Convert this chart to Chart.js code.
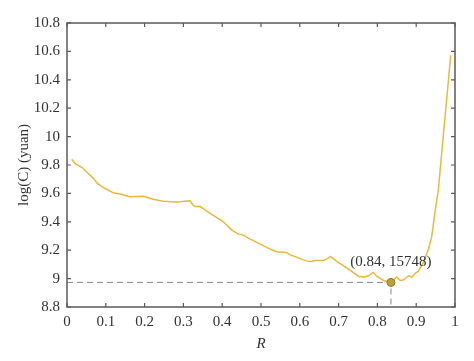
<!DOCTYPE html>
<html>
<head>
<meta charset="utf-8">
<script src="https://cdn.jsdelivr.net/npm/chart.js@4/dist/chart.umd.min.js"></script>
<style>
  html, body { margin: 0; padding: 0; background: #fff; }
  #wrap { width: 474px; height: 361px; }
</style>
</head>
<body>
<div id="wrap"><canvas id="c" width="474" height="361"></canvas></div>
<script>
// values
const rValues = [0.012, 0.021, 0.038, 0.055, 0.068, 0.078, 0.094, 0.119, 0.137, 0.162,
  0.197, 0.222, 0.248, 0.283, 0.317, 0.324, 0.33, 0.343, 0.369, 0.403,
  0.424, 0.442, 0.453, 0.472, 0.497, 0.523, 0.54, 0.566, 0.575, 0.592,
  0.609, 0.626, 0.639, 0.661, 0.673, 0.679, 0.696, 0.722, 0.752, 0.765,
  0.777, 0.789, 0.799, 0.816, 0.835, 0.849, 0.859, 0.868, 0.88, 0.889,
  0.898, 0.905, 0.918, 0.931, 0.94, 0.948, 0.957, 0.989];
const logCost = [9.84, 9.81, 9.784, 9.74, 9.706, 9.67, 9.64, 9.605, 9.596, 9.577,
  9.58, 9.559, 9.545, 9.54, 9.548, 9.52, 9.507, 9.507, 9.46, 9.40,
  9.343, 9.313, 9.308, 9.278, 9.245, 9.208, 9.189, 9.184, 9.167, 9.151,
  9.132, 9.118, 9.127, 9.127, 9.144, 9.156, 9.12, 9.074, 9.015, 9.011,
  9.02, 9.043, 9.015, 8.987, 8.973, 9.011, 8.987, 8.992, 9.02, 9.011,
  9.039, 9.05, 9.109, 9.203, 9.296, 9.46, 9.624, 10.573];
const optimum = { r: 0.835, v: 8.973 };
const optimumLabel = '(0.84, 15748)';
const xTicks = [0, 0.1, 0.2, 0.3, 0.4, 0.5, 0.6, 0.7, 0.8, 0.9, 1];
const yTicks = [8.8, 9, 9.2, 9.4, 9.6, 9.8, 10, 10.2, 10.4, 10.6, 10.8];

const serif = '"Liberation Serif", "DejaVu Serif", serif';
const axisColor = '#5a5a5a';

const curve = rValues.map((r, i) => ({ x: r, y: logCost[i] }));

// box + inward ticks on all four sides
const frame = {
  id: 'frame',
  afterDatasetsDraw(chart) {
    const { ctx, chartArea: a, scales } = chart;
    ctx.save();
    ctx.strokeStyle = axisColor;
    ctx.lineWidth = 1.5;
    ctx.strokeRect(a.left, a.top, a.right - a.left, a.bottom - a.top);
    ctx.lineWidth = 1.2;
    ctx.beginPath();
    xTicks.forEach(t => {
      const px = scales.x.getPixelForValue(t);
      ctx.moveTo(px, a.bottom); ctx.lineTo(px, a.bottom - 4);
      ctx.moveTo(px, a.top); ctx.lineTo(px, a.top + 4);
    });
    yTicks.forEach(t => {
      const py = scales.y.getPixelForValue(t);
      ctx.moveTo(a.left, py); ctx.lineTo(a.left + 4, py);
      ctx.moveTo(a.right, py); ctx.lineTo(a.right - 4, py);
    });
    ctx.stroke();
    // label of the optimum
    ctx.fillStyle = '#333';
    ctx.font = '15px ' + serif;
    ctx.textAlign = 'center';
    ctx.textBaseline = 'alphabetic';
    ctx.fillText(optimumLabel, scales.x.getPixelForValue(optimum.r), scales.y.getPixelForValue(optimum.v) - 16);
    ctx.restore();
  }
};

new Chart(document.getElementById('c'), {
  type: 'line',
  data: {
    datasets: [
      {
        data: curve,
        borderColor: '#EBB83A',
        borderWidth: 1.5,
        pointRadius: 0,
        tension: 0,
        order: 2
      },
      {
        data: [{ x: 0, y: optimum.v }, { x: optimum.r, y: optimum.v }, { x: optimum.r, y: 8.8 }],
        borderColor: '#888',
        borderWidth: 1,
        borderDash: [6, 4],
        pointRadius: 0,
        tension: 0,
        order: 3
      },
      {
        type: 'scatter',
        data: [{ x: optimum.r, y: optimum.v }],
        backgroundColor: '#B9A23C',
        borderColor: '#8F7B22',
        borderWidth: 1,
        pointRadius: 4,
        order: 1
      }
    ]
  },
  options: {
    responsive: false,
    animation: false,
    layout: { padding: 0 },
    plugins: { legend: { display: false }, tooltip: { enabled: false } },
    scales: {
      x: {
        type: 'linear',
        min: 0, max: 1,
        afterFit: s => { s.height = 54; },
        afterBuildTicks: s => { s.ticks = xTicks.map(v => ({ value: v })); },
        grid: { display: false, drawTicks: false },
        border: { display: false },
        ticks: {
          padding: 6,
          color: '#333',
          font: { family: serif, size: 15 },
          callback: v => String(+v.toFixed(1))
        },
        title: {
          display: true,
          text: 'R',
          color: '#333',
          font: { family: serif, size: 15, style: 'italic' },
          padding: { top: 0, bottom: 8 }
        }
      },
      y: {
        type: 'linear',
        min: 8.8, max: 10.8,
        afterFit: s => { s.width = 67; },
        afterBuildTicks: s => { s.ticks = yTicks.map(v => ({ value: v })); },
        grid: { display: false, drawTicks: false },
        border: { display: false },
        ticks: {
          padding: 7,
          color: '#333',
          font: { family: serif, size: 15 },
          callback: v => String(+v.toFixed(1))
        },
        title: {
          display: true,
          text: 'log(C) (yuan)',
          color: '#333',
          font: { family: serif, size: 15 },
          padding: { top: 15, bottom: 0 }
        }
      },
      xTop: {
        type: 'linear', position: 'top', min: 0, max: 1,
        afterFit: s => { s.height = 23; },
        grid: { display: false, drawTicks: false },
        border: { display: false },
        ticks: { display: false }
      },
      yRight: {
        type: 'linear', position: 'right', min: 8.8, max: 10.8,
        afterFit: s => { s.width = 19; },
        grid: { display: false, drawTicks: false },
        border: { display: false },
        ticks: { display: false }
      }
    }
  },
  plugins: [frame]
});
</script>
</body>
</html>
